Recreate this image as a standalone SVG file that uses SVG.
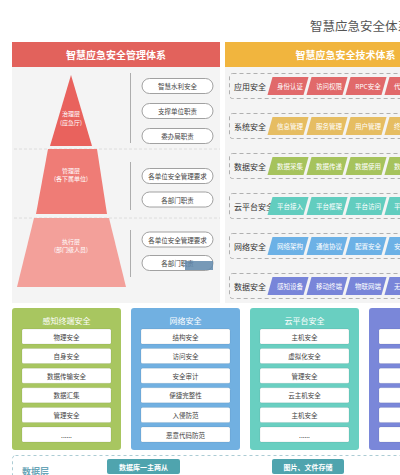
<svg xmlns="http://www.w3.org/2000/svg" xmlns:xlink="http://www.w3.org/1999/xlink" width="400" height="475" viewBox="0 0 400 475">
<style>
text{font-family:"Noto Sans CJK SC","Liberation Sans",sans-serif;text-anchor:middle;dominant-baseline:central}
.hd{fill:#fff;font-size:10px;font-weight:bold}
.pyr{fill:#fff;font-size:6px}
.pill{fill:#fff;stroke:#8a8a8a;stroke-width:0.8}
.pt{fill:#444;font-size:6.5px}
.vl{stroke:#9a9a9a;stroke-width:0.8}
.sep{stroke:#d8d8d8;stroke-width:0.8;stroke-dasharray:3 2}
.row{fill:none;stroke:#a8a8a8;stroke-width:0.9;stroke-dasharray:4 3}
.rl{fill:#333;font-size:8px;text-anchor:start}
.tt{fill:#fff;font-size:6.5px}
.card-t{fill:#fff;font-size:8px}
.ib{fill:#fff;stroke:rgba(0,0,0,0.12);stroke-width:0.6}
.it{fill:#444;font-size:6.5px}
.btn{fill:#4fa4ae}
.bt{fill:#fff;font-size:7px;font-weight:bold}
</style>
<defs>
<polygon id="tag" points="-15.5,-9 20.5,-9 15.5,9 -20.5,9"/>
</defs>
<rect width="400" height="475" fill="#fff"/>
<text x="310" y="25" style="text-anchor:start;font-size:12.5px;fill:#555">智慧应急安全体系</text>

<!-- panels -->
<rect x="12" y="67" width="208" height="236" fill="#f4f4f4"/>
<rect x="225" y="67" width="175" height="236" fill="#f4f4f4"/>
<g id="hdr-left"><rect x="12" y="42" width="208" height="25" fill="#e2625c"/><text class="hd" x="116" y="54.5">智慧应急安全管理体系</text></g>
<g id="hdr-right"><rect x="225" y="42" width="175" height="25" fill="#f1b53e"/><text class="hd" x="345.5" y="54.5">智慧应急安全技术体系</text></g>

<line class="sep" x1="14" y1="149" x2="220" y2="149"/>
<line class="sep" x1="14" y1="218" x2="220" y2="218"/>

<!-- pyramid -->
<g id="pyr-top"><polygon points="71,75 92,146 50,146" fill="#e9625d"/><text class="pyr" x="71" y="113">治理层</text><text class="pyr" x="71" y="122">(应急厅)</text></g>
<g id="pyr-mid"><polygon points="48,149 97,149 107,214 36,214" fill="#ef7c76"/><text class="pyr" x="71" y="170">管理层</text><text class="pyr" x="71" y="178">(各下属单位)</text></g>
<g id="pyr-bot"><polygon points="34,218 109,218 126,287 17,287" fill="#f3a09a"/><text class="pyr" x="71" y="241">执行层</text><text class="pyr" x="71" y="249">(部门级人员)</text></g>

<g id="lines">
<line class="vl" x1="130.5" y1="73" x2="130.5" y2="143"/>
<line class="vl" x1="130.5" y1="162" x2="130.5" y2="210"/>
<line class="vl" x1="130.5" y1="230" x2="130.5" y2="277"/>
</g>

<g id="p1"><rect class="pill" x="142" y="78.5" width="71" height="15" rx="7.5"/><text class="pt" x="177.5" y="86">智慧水利安全</text></g>
<g id="p2"><rect class="pill" x="142" y="103.5" width="71" height="15" rx="7.5"/><text class="pt" x="177.5" y="111">支撑单位职责</text></g>
<g id="p3"><rect class="pill" x="142" y="128.5" width="71" height="15" rx="7.5"/><text class="pt" x="177.5" y="136">委办局职责</text></g>
<g id="p4"><rect class="pill" x="142" y="168.5" width="71" height="15" rx="7.5"/><text class="pt" x="177.5" y="176">各单位安全管理要求</text></g>
<g id="p5"><rect class="pill" x="142" y="192" width="71" height="15" rx="7.5"/><text class="pt" x="177.5" y="199.5">各部门职责</text></g>
<g id="p6"><rect class="pill" x="142" y="232" width="71" height="15" rx="7.5"/><text class="pt" x="177.5" y="239.5">各单位安全管理要求</text></g>
<g id="p7"><rect class="pill" x="142" y="255.5" width="71" height="15" rx="7.5"/><text class="pt" x="177.5" y="263">各部门职责</text></g>
<rect x="185" y="261" width="28" height="9" fill="#5f87aa" opacity="0.85"/>

<!-- right rows -->
<g id="r1"><rect class="row" x="229.5" y="73.5" width="185" height="25" rx="3"/><text class="rl" x="234" y="86">应用安全</text>
<g fill="#e1696a"><use href="#tag" x="288" y="86"/><use href="#tag" x="327" y="86"/><use href="#tag" x="366" y="86"/><use href="#tag" x="405" y="86"/></g>
<text class="tt" x="290" y="86">身份认证</text><text class="tt" x="329" y="86">访问权限</text><text class="tt" x="368" y="86">RPC安全</text><text class="tt" x="407" y="86">代码安全</text></g>
<g id="r2"><rect class="row" x="229.5" y="113.5" width="185" height="25" rx="3"/><text class="rl" x="234" y="126">系统安全</text>
<g fill="#e6bd62"><use href="#tag" x="288" y="126"/><use href="#tag" x="327" y="126"/><use href="#tag" x="366" y="126"/><use href="#tag" x="405" y="126"/></g>
<text class="tt" x="290" y="126">信息管理</text><text class="tt" x="329" y="126">服务管理</text><text class="tt" x="368" y="126">用户管理</text><text class="tt" x="407" y="126">终端管理</text></g>
<g id="r3"><rect class="row" x="229.5" y="153.5" width="185" height="25" rx="3"/><text class="rl" x="234" y="166">数据安全</text>
<g fill="#a6c35c"><use href="#tag" x="288" y="166"/><use href="#tag" x="327" y="166"/><use href="#tag" x="366" y="166"/><use href="#tag" x="405" y="166"/></g>
<text class="tt" x="290" y="166">数据采集</text><text class="tt" x="329" y="166">数据传递</text><text class="tt" x="368" y="166">数据使用</text><text class="tt" x="407" y="166">数据存储</text></g>
<g id="r4"><rect class="row" x="229.5" y="193.5" width="185" height="25" rx="3"/><text class="rl" x="234" y="206">云平台安全</text>
<g fill="#62cdbf"><use href="#tag" x="288" y="206"/><use href="#tag" x="327" y="206"/><use href="#tag" x="366" y="206"/><use href="#tag" x="405" y="206"/></g>
<text class="tt" x="290" y="206">平台接入</text><text class="tt" x="329" y="206">平台框架</text><text class="tt" x="368" y="206">平台访问</text><text class="tt" x="407" y="206">平台管理</text></g>
<g id="r5"><rect class="row" x="229.5" y="233.5" width="185" height="25" rx="3"/><text class="rl" x="234" y="246">网络安全</text>
<g fill="#6cb1e6"><use href="#tag" x="288" y="246"/><use href="#tag" x="327" y="246"/><use href="#tag" x="366" y="246"/><use href="#tag" x="405" y="246"/></g>
<text class="tt" x="290" y="246">网络架构</text><text class="tt" x="329" y="246">通信协议</text><text class="tt" x="368" y="246">配置安全</text><text class="tt" x="407" y="246">安全审计</text></g>
<g id="r6"><rect class="row" x="229.5" y="273.5" width="185" height="25" rx="3"/><text class="rl" x="234" y="286">数据安全</text>
<g fill="#7885d9"><use href="#tag" x="288" y="286"/><use href="#tag" x="327" y="286"/><use href="#tag" x="366" y="286"/><use href="#tag" x="405" y="286"/></g>
<text class="tt" x="290" y="286">感知设备</text><text class="tt" x="329" y="286">移动终端</text><text class="tt" x="368" y="286">物联网端</text><text class="tt" x="407" y="286">无线网络</text></g>

<!-- cards -->
<g id="c1"><rect x="12" y="308" width="109" height="142" rx="3" fill="#a8c660"/><text class="card-t" x="66.5" y="320">感知终端安全</text>
<rect class="ib" x="22" y="329" width="89" height="15" rx="1.5"/><text class="it" x="66.5" y="336.5">物理安全</text>
<rect class="ib" x="22" y="348.6" width="89" height="15" rx="1.5"/><text class="it" x="66.5" y="356.1">自身安全</text>
<rect class="ib" x="22" y="368.2" width="89" height="15" rx="1.5"/><text class="it" x="66.5" y="375.7">数据传输安全</text>
<rect class="ib" x="22" y="387.8" width="89" height="15" rx="1.5"/><text class="it" x="66.5" y="395.3">数据汇集</text>
<rect class="ib" x="22" y="407.4" width="89" height="15" rx="1.5"/><text class="it" x="66.5" y="414.9">管理安全</text>
<rect class="ib" x="22" y="427" width="89" height="15" rx="1.5"/><text class="it" x="66.5" y="434.5">......</text></g>
<g id="c2"><rect x="131" y="308" width="109" height="142" rx="3" fill="#71b0e1"/><text class="card-t" x="185.5" y="320">网络安全</text>
<rect class="ib" x="141" y="329" width="89" height="15" rx="1.5"/><text class="it" x="185.5" y="336.5">结构安全</text>
<rect class="ib" x="141" y="348.6" width="89" height="15" rx="1.5"/><text class="it" x="185.5" y="356.1">访问安全</text>
<rect class="ib" x="141" y="368.2" width="89" height="15" rx="1.5"/><text class="it" x="185.5" y="375.7">安全审计</text>
<rect class="ib" x="141" y="387.8" width="89" height="15" rx="1.5"/><text class="it" x="185.5" y="395.3">便捷完整性</text>
<rect class="ib" x="141" y="407.4" width="89" height="15" rx="1.5"/><text class="it" x="185.5" y="414.9">入侵防范</text>
<rect class="ib" x="141" y="427" width="89" height="15" rx="1.5"/><text class="it" x="185.5" y="434.5">恶意代码防范</text></g>
<g id="c3"><rect x="250" y="308" width="109" height="142" rx="3" fill="#69cfc1"/><text class="card-t" x="304.5" y="320">云平台安全</text>
<rect class="ib" x="260" y="329" width="89" height="15" rx="1.5"/><text class="it" x="304.5" y="336.5">主机安全</text>
<rect class="ib" x="260" y="348.6" width="89" height="15" rx="1.5"/><text class="it" x="304.5" y="356.1">虚拟化安全</text>
<rect class="ib" x="260" y="368.2" width="89" height="15" rx="1.5"/><text class="it" x="304.5" y="375.7">管理安全</text>
<rect class="ib" x="260" y="387.8" width="89" height="15" rx="1.5"/><text class="it" x="304.5" y="395.3">云主机安全</text>
<rect class="ib" x="260" y="407.4" width="89" height="15" rx="1.5"/><text class="it" x="304.5" y="414.9">主机安全</text>
<rect class="ib" x="260" y="427" width="89" height="15" rx="1.5"/><text class="it" x="304.5" y="434.5">......</text></g>
<g id="c4"><rect x="369" y="308" width="109" height="142" rx="3" fill="#7a87d9"/>
<rect class="ib" x="379" y="329" width="89" height="15" rx="1.5"/>
<rect class="ib" x="379" y="348.6" width="89" height="15" rx="1.5"/>
<rect class="ib" x="379" y="368.2" width="89" height="15" rx="1.5"/>
<rect class="ib" x="379" y="387.8" width="89" height="15" rx="1.5"/>
<rect class="ib" x="379" y="407.4" width="89" height="15" rx="1.5"/>
<rect class="ib" x="379" y="427" width="89" height="15" rx="1.5"/></g>

<!-- data layer -->
<g id="data-layer"><rect x="12.5" y="455.5" width="400" height="40" rx="3" fill="none" stroke="#a3c6cf" stroke-width="0.9" stroke-dasharray="3 3"/>
<text x="22" y="471.5" style="text-anchor:start;font-size:9px;font-weight:bold;fill:#6aa6b8">数据层</text></g>
<g id="b1"><rect class="btn" x="107" y="459" width="73" height="15" rx="2"/><text class="bt" x="143.5" y="466.5">数据库一主两从</text></g>
<g id="b2"><rect class="btn" x="272" y="459" width="72" height="15" rx="2"/><text class="bt" x="308" y="466.5">图片、文件存储</text></g>
</svg>
